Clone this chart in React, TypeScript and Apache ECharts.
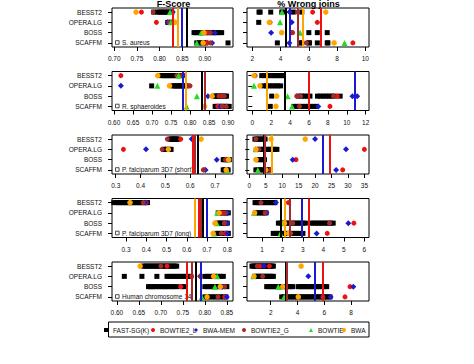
import React, { useEffect, useRef } from 'react';
import * as echarts from 'echarts';

type Pts = [string, string, number[]][];
type Lines = [string, number][];

const METHODS = ['FAST-SG(K)', 'BOWTIE2_L', 'BWA-MEM', 'BOWTIE2_G', 'BOWTIE', 'BWA'];
const ROWS = ['SCAFFM', 'BOSS', 'OPERA.LG', 'BESST2'];
const ORGANISMS = ['S. aureus', 'R. sphaeroides', 'P. falciparum 3D7 (short)', 'P. falciparum 3D7 (long)', 'Human chromosome 14'];
const TITLES = ['F-Score', '% Wrong joins'];

const F_TICKS = [
  [0.7, 0.75, 0.8, 0.85, 0.9],
  [0.6, 0.65, 0.7, 0.75, 0.8, 0.85, 0.9],
  [0.3, 0.4, 0.5, 0.6, 0.7],
  [0.3, 0.4, 0.5, 0.6, 0.7, 0.8],
  [0.6, 0.65, 0.7, 0.75, 0.8, 0.85],
];
const W_TICKS = [
  [2, 4, 6, 8, 10],
  [0, 2, 4, 6, 8, 10, 12],
  [0, 5, 10, 15, 20, 25, 30, 35],
  [1, 2, 3, 4, 5, 6],
  [2, 4, 6, 8],
];
const F_RANGE = [[0.695, 0.962], [0.5947, 0.913], [0.285, 0.7725], [0.231, 0.828], [0.589, 0.864]];
const W_RANGE = [[1.62, 10.26], [-0.56, 12.35], [-0.7, 36.4], [0.267, 6.23], [0.23, 9.34]];
const F_DECIMALS = [2, 2, 1, 1, 2];

// ---------- S. aureus ----------
const fSAureus: Pts = [
  ['FAST-SG(K)', 'BESST2', [0.787, 0.796, 0.8, 0.804, 0.808, 0.812, 0.816, 0.82, 0.824, 0.827]],
  ['FAST-SG(K)', 'OPERA.LG', [0.818, 0.822, 0.826, 0.83]],
  ['FAST-SG(K)', 'BOSS', [0.876, 0.88, 0.885, 0.89, 0.895, 0.9, 0.905, 0.91, 0.915, 0.92, 0.925, 0.931, 0.937]],
  ['FAST-SG(K)', 'SCAFFM', [0.882, 0.887, 0.892, 0.897, 0.902, 0.951]],
  ['BOWTIE2_L', 'BESST2', [0.76]], ['BOWTIE2_L', 'OPERA.LG', [0.793]], ['BOWTIE2_L', 'BOSS', [0.906]], ['BOWTIE2_L', 'SCAFFM', [0.905]],
  ['BWA-MEM', 'BESST2', [0.829]], ['BWA-MEM', 'OPERA.LG', [0.818]], ['BWA-MEM', 'BOSS', [0.922]], ['BWA-MEM', 'SCAFFM', [0.916]],
  ['BOWTIE2_G', 'BESST2', [0.786]], ['BOWTIE2_G', 'OPERA.LG', [0.821]], ['BOWTIE2_G', 'BOSS', [0.912]], ['BOWTIE2_G', 'SCAFFM', [0.912]],
  ['BOWTIE', 'BESST2', [0.823]], ['BOWTIE', 'OPERA.LG', [0.825]], ['BOWTIE', 'BOSS', [0.892]], ['BOWTIE', 'SCAFFM', [0.882]],
  ['BWA', 'BESST2', [0.748]], ['BWA', 'OPERA.LG', [0.834]], ['BWA', 'BOSS', [0.898]], ['BWA', 'SCAFFM', [0.896]],
];
const fSAureusLines: Lines = [['BOWTIE2_L', 0.832], ['BWA', 0.843], ['BWA-MEM', 0.853], ['FAST-SG(K)', 0.865]];

const wSAureus: Pts = [
  ['FAST-SG(K)', 'BESST2', [2.47, 2.55, 3.3, 4.08, 4.15, 4.9, 5.5]],
  ['FAST-SG(K)', 'OPERA.LG', [2.45]],
  ['FAST-SG(K)', 'BOSS', [6.0, 6.6, 7.3]],
  ['FAST-SG(K)', 'SCAFFM', [3.77, 5.36, 5.5, 6.0, 6.05, 6.6, 7.3, 7.35]],
  ['BOWTIE2_L', 'BESST2', [6.27]], ['BOWTIE2_L', 'OPERA.LG', [6.6]], ['BOWTIE2_L', 'BOSS', [4.85]], ['BOWTIE2_L', 'SCAFFM', [9.12]],
  ['BWA-MEM', 'BESST2', [4.62]], ['BWA-MEM', 'OPERA.LG', [4.79]], ['BWA-MEM', 'BOSS', [3.33]], ['BWA-MEM', 'SCAFFM', [4.62]],
  ['BOWTIE2_G', 'BESST2', [5.2]], ['BOWTIE2_G', 'OPERA.LG', [3.25]], ['BOWTIE2_G', 'BOSS', [4.79]], ['BOWTIE2_G', 'SCAFFM', [5.83]],
  ['BOWTIE', 'BESST2', [4.1]], ['BOWTIE', 'OPERA.LG', [3.96]], ['BOWTIE', 'BOSS', [5.38]], ['BOWTIE', 'SCAFFM', [8.53]],
  ['BWA', 'BESST2', [7.2]], ['BWA', 'OPERA.LG', [3.2]], ['BWA', 'BOSS', [4.08]], ['BWA', 'SCAFFM', [7.79]],
];
const wSAureusLines: Lines = [['FAST-SG(K)', 4.39], ['BWA-MEM', 4.62], ['BOWTIE2_G', 5.19], ['BWA', 5.57], ['BOWTIE2_L', 6.84]];

// ---------- R. sphaeroides ----------
const fRSph: Pts = [
  ['FAST-SG(K)', 'BESST2', [0.725, 0.729, 0.733, 0.737, 0.741, 0.745, 0.749, 0.753, 0.757, 0.761, 0.766, 0.77, 0.774]],
  ['FAST-SG(K)', 'OPERA.LG', [0.699, 0.755, 0.759, 0.763, 0.767, 0.771, 0.775, 0.779, 0.783, 0.788]],
  ['FAST-SG(K)', 'BOSS', [0.864, 0.868, 0.872, 0.876, 0.88, 0.884, 0.888, 0.892, 0.896]],
  ['FAST-SG(K)', 'SCAFFM', [0.866, 0.87, 0.874, 0.878, 0.882, 0.886, 0.89, 0.894, 0.898, 0.903]],
  ['BOWTIE2_L', 'BESST2', [0.618, 0.781]], ['BOWTIE2_L', 'OPERA.LG', [0.797]], ['BOWTIE2_L', 'BOSS', [0.884]], ['BOWTIE2_L', 'SCAFFM', [0.873]],
  ['BWA-MEM', 'BESST2', [0.784]], ['BWA-MEM', 'OPERA.LG', [0.618]], ['BWA-MEM', 'BOSS', [0.847]], ['BWA-MEM', 'SCAFFM', [0.88]],
  ['BOWTIE2_G', 'BESST2', [0.765, 0.772]], ['BOWTIE2_G', 'OPERA.LG', [0.795, 0.8]], ['BOWTIE2_G', 'BOSS', [0.876, 0.89]], ['BOWTIE2_G', 'SCAFFM', [0.885, 0.895]],
  ['BOWTIE', 'BESST2', [0.77]], ['BOWTIE', 'OPERA.LG', [0.714]], ['BOWTIE', 'BOSS', [0.818]], ['BOWTIE', 'SCAFFM', [0.791]],
  ['BWA', 'BESST2', [0.715]], ['BWA', 'OPERA.LG', [0.746]], ['BWA', 'BOSS', [0.858]], ['BWA', 'SCAFFM', [0.838]],
];
const fRSphLines: Lines = [['BWA-MEM', 0.784], ['BWA', 0.794], ['FAST-SG(K)', 0.833], ['BOWTIE2_G', 0.838]];

const wRSph: Pts = [
  ['FAST-SG(K)', 'BESST2', [1.0, 1.3, 1.6, 1.9, 2.1, 2.3, 2.5, 2.7, 2.9, 3.1, 3.3]],
  ['FAST-SG(K)', 'OPERA.LG', [1.2, 1.5, 1.8, 2.1, 2.4, 2.7, 3.0]],
  ['FAST-SG(K)', 'BOSS', [2.05, 4.9, 5.2, 5.5, 5.8, 6.1, 6.9, 7.2, 7.5, 7.8, 8.1, 8.4, 8.7, 9.3]],
  ['FAST-SG(K)', 'SCAFFM', [1.9, 4.4, 4.7, 5.0, 5.3, 5.6, 5.9, 6.2, 6.5, 6.8]],
  ['BOWTIE2_L', 'BOSS', [9.0]], ['BOWTIE2_L', 'SCAFFM', [8.22]],
  ['BWA-MEM', 'BOSS', [10.6, 11.1]], ['BWA-MEM', 'SCAFFM', [6.98]],
  ['BOWTIE2_G', 'BESST2', [0.3]], ['BOWTIE2_G', 'BOSS', [4.7, 5.1, 8.6]], ['BOWTIE2_G', 'SCAFFM', [5.0]],
  ['BOWTIE', 'OPERA.LG', [0.18]], ['BOWTIE', 'BOSS', [3.74]], ['BOWTIE', 'SCAFFM', [4.2]],
  ['BWA', 'BESST2', [0.18]], ['BWA', 'OPERA.LG', [0.81]], ['BWA', 'BOSS', [2.58]], ['BWA', 'SCAFFM', [2.5]],
];
const wRSphLines: Lines = [['BWA', 1.52], ['FAST-SG(K)', 3.39], ['BOWTIE2_L', 5.93], ['BWA-MEM', 10.8]];

// ---------- P. falciparum 3D7 (short) ----------
const fPfShort: Pts = [
  ['FAST-SG(K)', 'BESST2', [0.519, 0.523, 0.527, 0.531, 0.535, 0.539, 0.543, 0.547, 0.551]],
  ['FAST-SG(K)', 'OPERA.LG', [0.493, 0.499, 0.505, 0.511, 0.517, 0.523]],
  ['FAST-SG(K)', 'BOSS', [0.733, 0.738, 0.743, 0.748, 0.753, 0.758]],
  ['FAST-SG(K)', 'SCAFFM', [0.733, 0.738, 0.743, 0.748, 0.753]],
  ['BOWTIE2_L', 'BESST2', [0.562]], ['BOWTIE2_L', 'OPERA.LG', [0.331]], ['BOWTIE2_L', 'SCAFFM', [0.656]],
  ['BWA-MEM', 'BESST2', [0.606]], ['BWA-MEM', 'OPERA.LG', [0.422]], ['BWA-MEM', 'BOSS', [0.707]], ['BWA-MEM', 'SCAFFM', [0.662]],
  ['BOWTIE2_G', 'BESST2', [0.508]], ['BOWTIE2_G', 'OPERA.LG', [0.487]], ['BOWTIE2_G', 'BOSS', [0.742]], ['BOWTIE2_G', 'SCAFFM', [0.653]],
  ['BOWTIE', 'SCAFFM', [0.748]],
  ['BWA', 'BESST2', [0.644]], ['BWA', 'OPERA.LG', [0.512]], ['BWA', 'BOSS', [0.755]], ['BWA', 'SCAFFM', [0.745]],
];
const fPfShortLines: Lines = [['BOWTIE2_L', 0.615], ['BOWTIE2_G', 0.619], ['FAST-SG(K)', 0.633]];

const wPfShort: Pts = [
  ['FAST-SG(K)', 'BESST2', [1.7, 2.2, 2.7, 3.2, 3.7, 4.2, 4.8]],
  ['FAST-SG(K)', 'OPERA.LG', [2.4, 3.0, 3.6, 4.2, 4.8, 5.4, 6.0, 6.6, 7.2, 7.8, 8.4]],
  ['FAST-SG(K)', 'BOSS', [2.6, 3.1, 3.6, 4.1, 4.6]],
  ['FAST-SG(K)', 'SCAFFM', [2.0, 2.6, 3.2, 3.8, 4.4, 5.0, 5.6, 6.2]],
  ['BOWTIE2_L', 'OPERA.LG', [35.0]], ['BOWTIE2_L', 'BOSS', [14.2]], ['BOWTIE2_L', 'SCAFFM', [28.4]],
  ['BWA-MEM', 'BESST2', [20.0]], ['BWA-MEM', 'OPERA.LG', [29.4]], ['BWA-MEM', 'BOSS', [13.2]], ['BWA-MEM', 'SCAFFM', [26.4]],
  ['BOWTIE2_G', 'BESST2', [2.0]], ['BOWTIE2_G', 'OPERA.LG', [3.0]], ['BOWTIE2_G', 'BOSS', [2.2]], ['BOWTIE2_G', 'SCAFFM', [6.5]],
  ['BOWTIE', 'OPERA.LG', [1.9]], ['BOWTIE', 'SCAFFM', [2.6]],
  ['BWA', 'BESST2', [6.6, 17.0]], ['BWA', 'OPERA.LG', [2.0]], ['BWA', 'BOSS', [2.0]], ['BWA', 'SCAFFM', [5.0]],
];
const wPfShortLines: Lines = [['FAST-SG(K)', 4.26], ['BOWTIE2_G', 4.7], ['BWA', 6.8], ['BWA-MEM', 22.3], ['BOWTIE2_L', 24.6]];

// ---------- P. falciparum 3D7 (long) ----------
const fPfLong: Pts = [
  ['FAST-SG(K)', 'BESST2', [0.24, 0.254, 0.262, 0.27, 0.278, 0.286, 0.294, 0.302, 0.31, 0.318, 0.326, 0.334, 0.342, 0.35, 0.358, 0.366, 0.374, 0.382, 0.39, 0.398, 0.406]],
  ['FAST-SG(K)', 'OPERA.LG', [0.755, 0.765, 0.775, 0.785, 0.795, 0.805]],
  ['FAST-SG(K)', 'BOSS', [0.752, 0.762, 0.772, 0.782, 0.792, 0.8]],
  ['FAST-SG(K)', 'SCAFFM', [0.748, 0.758, 0.768, 0.778, 0.788, 0.798, 0.805]],
  ['BOWTIE2_L', 'BESST2', [0.4]], ['BOWTIE2_L', 'OPERA.LG', [0.778]], ['BOWTIE2_L', 'BOSS', [0.79]], ['BOWTIE2_L', 'SCAFFM', [0.79]],
  ['BWA-MEM', 'BESST2', [0.395]], ['BWA-MEM', 'OPERA.LG', [0.8]], ['BWA-MEM', 'BOSS', [0.8]], ['BWA-MEM', 'SCAFFM', [0.8]],
  ['BOWTIE2_G', 'BESST2', [0.385]], ['BOWTIE2_G', 'OPERA.LG', [0.79]], ['BOWTIE2_G', 'BOSS', [0.785]], ['BOWTIE2_G', 'SCAFFM', [0.77]],
  ['BOWTIE', 'OPERA.LG', [0.75]], ['BOWTIE', 'BOSS', [0.748]], ['BOWTIE', 'SCAFFM', [0.735]],
  ['BWA', 'BESST2', [0.32]], ['BWA', 'OPERA.LG', [0.76]], ['BWA', 'BOSS', [0.739]], ['BWA', 'SCAFFM', [0.73]],
];
const fPfLongLines: Lines = [['BWA', 0.64], ['BOWTIE2_L', 0.66], ['BOWTIE2_G', 0.668], ['FAST-SG(K)', 0.678], ['BWA-MEM', 0.698]];

const wPfLong: Pts = [
  ['FAST-SG(K)', 'BESST2', [0.66, 0.75, 0.85, 0.95, 1.05, 1.15, 1.25, 1.35, 1.45, 1.55, 1.63]],
  ['FAST-SG(K)', 'OPERA.LG', [0.7, 0.8, 0.9, 1.0, 1.1, 1.2]],
  ['FAST-SG(K)', 'BOSS', [1.8, 1.92, 2.04, 2.16, 2.28, 2.4, 2.52, 2.64, 2.76, 2.88, 3.0, 3.12, 3.4, 3.52, 3.64, 3.76, 3.88, 4.0, 4.12, 4.24, 4.36, 4.48]],
  ['FAST-SG(K)', 'SCAFFM', [1.55, 1.67, 1.79, 1.91, 2.03, 2.15, 2.27, 2.39, 2.51, 2.63, 2.75, 2.87, 3.0]],
  ['BOWTIE2_L', 'BESST2', [2.29]], ['BOWTIE2_L', 'BOSS', [5.49]], ['BOWTIE2_L', 'SCAFFM', [4.19]],
  ['BWA-MEM', 'BESST2', [1.68]], ['BWA-MEM', 'OPERA.LG', [1.22]], ['BWA-MEM', 'BOSS', [5.22]], ['BWA-MEM', 'SCAFFM', [3.67]],
  ['BOWTIE2_G', 'BESST2', [0.95]], ['BOWTIE2_G', 'OPERA.LG', [1.15]], ['BOWTIE2_G', 'BOSS', [2.5, 4.3]], ['BOWTIE2_G', 'SCAFFM', [2.4]],
  ['BOWTIE', 'OPERA.LG', [0.61]], ['BOWTIE', 'BOSS', [2.0]], ['BOWTIE', 'SCAFFM', [1.9]],
  ['BWA', 'OPERA.LG', [0.64]], ['BWA', 'BOSS', [2.1]], ['BWA', 'SCAFFM', [2.3]],
];
const wPfLongLines: Lines = [['FAST-SG(K)', 1.91], ['BWA', 2.09], ['BOWTIE2_G', 2.37], ['BWA-MEM', 2.94], ['BOWTIE2_L', 3.3]];

// ---------- Human chromosome 14 ----------
const fHuman: Pts = [
  ['FAST-SG(K)', 'BESST2', [0.66, 0.664, 0.668, 0.672, 0.676, 0.68, 0.684, 0.688, 0.692, 0.696, 0.7, 0.704, 0.708, 0.712, 0.716, 0.72, 0.724, 0.728, 0.732, 0.736]],
  ['FAST-SG(K)', 'OPERA.LG', [0.617, 0.657, 0.691, 0.714, 0.72, 0.726, 0.732, 0.738, 0.744, 0.75, 0.756, 0.762, 0.768, 0.8, 0.806, 0.812, 0.818, 0.824, 0.83, 0.836, 0.842]],
  ['FAST-SG(K)', 'BOSS', [0.672, 0.676, 0.68, 0.684, 0.69, 0.696, 0.702, 0.708, 0.712, 0.718, 0.724, 0.73, 0.736, 0.748, 0.754, 0.8, 0.806, 0.812, 0.818, 0.824, 0.83, 0.836, 0.842, 0.85]],
  ['FAST-SG(K)', 'SCAFFM', [0.8, 0.806, 0.812, 0.818, 0.824, 0.83, 0.836, 0.842, 0.848]],
  ['BOWTIE2_L', 'BESST2', [0.714]], ['BOWTIE2_L', 'OPERA.LG', [0.77]], ['BOWTIE2_L', 'BOSS', [0.745]], ['BOWTIE2_L', 'SCAFFM', [0.845]],
  ['BWA-MEM', 'OPERA.LG', [0.789]], ['BWA-MEM', 'BOSS', [0.84]], ['BWA-MEM', 'SCAFFM', [0.85]],
  ['BOWTIE2_G', 'BESST2', [0.7]], ['BOWTIE2_G', 'OPERA.LG', [0.79]], ['BOWTIE2_G', 'BOSS', [0.845]], ['BOWTIE2_G', 'SCAFFM', [0.83]],
  ['BOWTIE', 'OPERA.LG', [0.828]], ['BOWTIE', 'BOSS', [0.823]], ['BOWTIE', 'SCAFFM', [0.793]],
  ['BWA', 'BESST2', [0.653]], ['BWA', 'OPERA.LG', [0.82]], ['BWA', 'BOSS', [0.835]], ['BWA', 'SCAFFM', [0.805]],
];
const fHumanLines: Lines = [['BWA', 0.7575], ['BOWTIE2_L', 0.76], ['BOWTIE2_G', 0.77], ['FAST-SG(K)', 0.776], ['BWA-MEM', 0.793]];

const wHuman: Pts = [
  ['FAST-SG(K)', 'BESST2', [0.6, 0.7, 0.8, 0.9, 1.0, 1.1, 1.2, 1.3, 1.4, 1.5, 1.6, 1.7, 1.8, 1.9, 2.0, 2.1, 2.2]],
  ['FAST-SG(K)', 'OPERA.LG', [0.8, 0.9, 1.0, 1.1, 1.2, 1.3, 1.4, 1.5, 1.6, 1.7, 1.8, 1.9, 2.0, 2.1, 2.2]],
  ['FAST-SG(K)', 'BOSS', [1.7, 1.85, 2.0, 2.15, 2.3, 2.45, 2.6, 2.75, 2.9, 3.05, 3.2, 3.35, 3.5, 3.65, 4.06, 4.2, 4.35, 4.5, 4.65, 4.8, 4.95, 5.1, 5.25, 5.4, 5.55, 5.7, 5.85, 6.0, 6.18]],
  ['FAST-SG(K)', 'SCAFFM', [2.82, 2.97, 3.12, 3.27, 3.42, 3.57, 3.72, 3.87, 4.02, 4.17, 4.32, 4.47, 4.62, 4.77, 4.92, 5.07, 5.22, 5.37, 5.52, 5.67, 5.82, 5.97, 6.12, 6.27, 6.43]],
  ['BOWTIE2_L', 'BESST2', [1.2, 1.9]], ['BOWTIE2_L', 'BOSS', [7.92]], ['BOWTIE2_L', 'SCAFFM', [7.55]],
  ['BWA-MEM', 'BESST2', [1.5]], ['BWA-MEM', 'OPERA.LG', [4.81]], ['BWA-MEM', 'BOSS', [8.17]], ['BWA-MEM', 'SCAFFM', [6.48]],
  ['BOWTIE2_G', 'BESST2', [1.0]], ['BOWTIE2_G', 'OPERA.LG', [1.4]], ['BOWTIE2_G', 'BOSS', [3.1]], ['BOWTIE2_G', 'SCAFFM', [5.9]],
  ['BOWTIE', 'OPERA.LG', [0.7]], ['BOWTIE', 'BOSS', [2.57]], ['BOWTIE', 'SCAFFM', [3.0]],
  ['BWA', 'BESST2', [4.27]], ['BWA', 'OPERA.LG', [0.75]], ['BWA', 'BOSS', [2.9]], ['BWA', 'SCAFFM', [4.06]],
];
const wHumanLines: Lines = [['FAST-SG(K)', 3.12], ['BOWTIE2_G', 3.2], ['BWA-MEM', 5.31], ['BOWTIE2_L', 5.88]];

const F_DATA = [fSAureus, fRSph, fPfShort, fPfLong, fHuman];
const W_DATA = [wSAureus, wRSph, wPfShort, wPfLong, wHuman];
const F_LINES = [fSAureusLines, fRSphLines, fPfShortLines, fPfLongLines, fHumanLines];
const W_LINES = [wSAureusLines, wRSphLines, wPfShortLines, wPfLongLines, wHumanLines];

// ---------- styles ----------
const COLORS: Record<string, string> = {
  'FAST-SG(K)': '#000000',
  'BOWTIE2_L': '#EE1111',
  'BWA-MEM': '#1a1ad0',
  'BOWTIE2_G': '#A52A2A',
  'BOWTIE': '#22DD22',
  'BWA': '#FFA500',
};
const SYMBOLS: Record<string, string> = {
  'FAST-SG(K)': 'rect',
  'BOWTIE2_L': 'circle',
  'BWA-MEM': 'diamond',
  'BOWTIE2_G': 'circle',
  'BOWTIE': 'triangle',
  'BWA': 'circle',
};
const SIZES: Record<string, number> = {
  'FAST-SG(K)': 5, 'BOWTIE2_L': 5, 'BWA-MEM': 6, 'BOWTIE2_G': 5, 'BOWTIE': 6, 'BWA': 5.5,
};
const FONT = 'Liberation Sans, Arial, Helvetica, sans-serif';
const FS = 6.5;
const LEFT_X = [112, 247];
const WIDTHS = [121, 122];
const TOP0 = 8;
const STEP = 63.5;
const PANEL_H = 39;
// left edge of each legend entry (icon), text starts 9px later
const LEGEND_X = [104, 151, 194, 242, 309, 342];

function buildOption() {
  const grid: any[] = [];
  const xAxis: any[] = [];
  const yAxis: any[] = [];
  const series: any[] = [];
  const graphic: any[] = [];

  for (let p = 0; p < 5; p++) {
    for (let m = 0; m < 2; m++) {
      const gi = p * 2 + m;
      const top = TOP0 + STEP * p;
      grid.push({
        left: LEFT_X[m], top, width: WIDTHS[m], height: PANEL_H,
        show: true, borderColor: '#000', borderWidth: 1, backgroundColor: 'transparent',
      });
      const ticks = m === 0 ? F_TICKS[p] : W_TICKS[p];
      const range = m === 0 ? F_RANGE[p] : W_RANGE[p];
      const dec = m === 0 ? F_DECIMALS[p] : 0;
      xAxis.push({
        type: 'value', gridIndex: gi, min: range[0], max: range[1],
        axisLine: { show: false },
        splitLine: { show: false },
        axisTick: { show: true, length: 4, inside: false, lineStyle: { color: '#000', width: 1 }, customValues: ticks },
        axisLabel: {
          customValues: ticks, formatter: (v: number) => v.toFixed(dec),
          fontSize: FS, color: '#111', margin: 8, fontFamily: FONT,
        },
      });
      yAxis.push({
        type: 'value', gridIndex: gi, min: 0.6, max: 4.4,
        axisLine: { show: false },
        splitLine: { show: false },
        axisTick: { show: true, length: 4, inside: false, lineStyle: { color: '#000', width: 1 }, customValues: [1, 2, 3, 4] },
        axisLabel: {
          show: m === 0, customValues: [1, 2, 3, 4],
          formatter: (v: number) => ROWS[Math.round(v) - 1],
          fontSize: FS, color: '#111', margin: 10, fontFamily: FONT,
        },
      });
      const data = m === 0 ? F_DATA[p] : W_DATA[p];
      METHODS.forEach((method) => {
        const pts: number[][] = [];
        data.forEach(([mm, row, xs]) => {
          if (mm !== method) return;
          xs.forEach((x) => pts.push([x, ROWS.indexOf(row) + 1]));
        });
        series.push({
          type: 'scatter', name: method, xAxisIndex: gi, yAxisIndex: gi,
          data: pts, symbol: SYMBOLS[method], symbolSize: SIZES[method],
          itemStyle: { color: COLORS[method], opacity: 1 },
          z: 2, silent: true,
        });
      });
      const lines = m === 0 ? F_LINES[p] : W_LINES[p];
      series.push({
        type: 'scatter', name: 'vlines' + gi, xAxisIndex: gi, yAxisIndex: gi,
        data: [], z: 3, silent: true,
        markLine: {
          silent: true, symbol: ['none', 'none'], label: { show: false },
          animation: false,
          data: lines.map(([method, x]) => ({
            xAxis: x, lineStyle: { color: COLORS[method], width: 2, type: 'solid' },
          })),
        },
      });
    }
    const top = TOP0 + STEP * p;
    graphic.push({
      type: 'rect', shape: { x: 115.5, y: top + 32.7, width: 3.6, height: 3.6 },
      style: { fill: 'none', stroke: '#222', lineWidth: 0.8 }, z: 1,
    });
    graphic.push({
      type: 'text', x: 122, y: top + 34.5,
      style: { text: ORGANISMS[p], fill: '#111', font: `${FS}px ${FONT}`, verticalAlign: 'middle', align: 'left' }, z: 1,
    });
  }

  graphic.push({
    type: 'text', x: 173.5, y: 3.5,
    style: { text: TITLES[0], fill: '#000', font: `bold 9px ${FONT}`, align: 'center', verticalAlign: 'middle' },
  });
  graphic.push({
    type: 'text', x: 308.5, y: 3.5,
    style: { text: TITLES[1], fill: '#000', font: `bold 9px ${FONT}`, align: 'center', verticalAlign: 'middle' },
  });
  graphic.push({
    type: 'rect', shape: { x: 108.5, y: 322, width: 260.5, height: 15 },
    style: { fill: 'none', stroke: '#000', lineWidth: 1 },
  });

  const legend = METHODS.map((method, k) => ({
    data: [{ name: method, icon: SYMBOLS[method] }],
    left: LEGEND_X[k], top: 326.5, padding: 0,
    itemWidth: 4, itemHeight: 4, itemGap: 0, selectedMode: false,
    textStyle: { fontSize: FS, color: '#111', fontFamily: FONT },
  }));

  return {
    animation: false,
    backgroundColor: '#fff',
    grid, xAxis, yAxis, series, graphic, legend,
  };
}

export default function App() {
  const ref = useRef<HTMLDivElement>(null);
  useEffect(() => {
    const chart = echarts.init(ref.current!, null, { renderer: 'svg' });
    chart.setOption(buildOption());
    return () => chart.dispose();
  }, []);
  return (
    <div
      ref={ref}
      style={{ position: 'fixed', left: 0, top: 0, width: 474, height: 364, background: '#fff' }}
    />
  );
}
